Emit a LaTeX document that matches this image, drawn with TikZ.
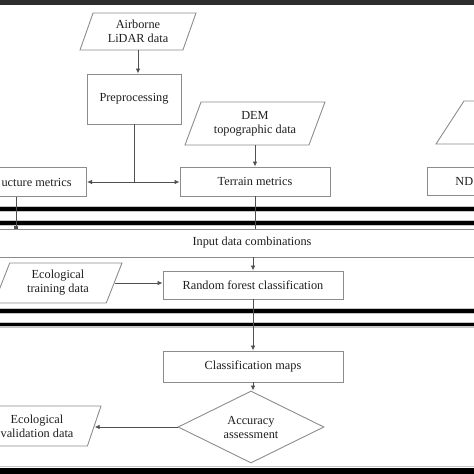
\documentclass[tikz,border=0pt]{standalone}
\usepackage{fontspec}
\setmainfont{Liberation Serif}
\usetikzlibrary{shapes.geometric,arrows.meta,calc}
\definecolor{boxgray}{HTML}{8C8C8C}
\definecolor{linegray}{HTML}{505050}
\definecolor{txt}{HTML}{1E1E1E}
\begin{document}
\begin{tikzpicture}[x=1pt,y=-1pt,
  font=\fontsize{12.3}{14}\selectfont,
  box/.style={draw=boxgray, line width=0.9pt, rectangle, align=center, inner sep=0pt, text=txt},
  para/.style={draw=boxgray, line width=0.9pt, trapezium, trapezium stretches body,
     align=center, inner sep=0pt, text=txt},
  dia/.style={draw=boxgray, line width=0.9pt, diamond, aspect=2, align=center, inner sep=0pt, text=txt},
  conn/.style={draw=linegray, line width=0.8pt},
  arr/.style={conn, -{Latex[length=5pt,width=4.5pt]}},
  band/.style={line width=3.6pt, black}
]
\useasboundingbox (0,0) rectangle (474,474);
\clip (0,0) rectangle (474,474);

% heavy rules
\fill[black!82] (0,0) rectangle (474,4.5);
\foreach \yy in {208.7,222.7,311,324.5}{
  \draw[line width=6pt, gray!45] (0,\yy) -- (474,\yy);
  \draw[band] (0,\yy) -- (474,\yy);
}
\draw[line width=1pt, gray!45] (0,466.5) -- (474,466.5);
\fill[black] (0,468) rectangle (474,474);

% nodes
\node[para, trapezium left angle=60, trapezium right angle=120,
      minimum width=116, minimum height=37] (lidar) at (138,31.5) {Airborne\\LiDAR data};
\node[box, minimum width=94, minimum height=50] (prep) at (134,99) {Preprocessing};
\node[para, trapezium left angle=57, trapezium right angle=123,
      minimum width=140, minimum height=43] (dem) at (255,123.5) {DEM\\topographic data};
\draw[draw=boxgray, line width=0.9pt] (436,144) -- (464,101) -- (576,101) -- (548,144) -- cycle;
\node[box, minimum height=28.5, inner xsep=15, anchor=east] (struct) at (87,182) {ucture metrics};
\node[box, minimum width=150, minimum height=29] (terr) at (255,181.5) {Terrain metrics};
\node[box, minimum height=28.5, anchor=west, text width=90, align=left, inner xsep=28] (ndvi) at (427,181.5) {ND};
\node[box, minimum width=540, minimum height=28] (inp) at (252,243) {Input data combinations};
\node[para, trapezium left angle=58, trapezium right angle=122,
      minimum width=128, minimum height=40] (train) at (58,283) {Ecological\\training data};
\node[box, minimum width=180, minimum height=28] (rf) at (253,285) {Random forest classification};
\node[box, minimum width=180, minimum height=31] (cls) at (253,366.5) {Classification maps};
\node[dia, minimum width=146, minimum height=72] (acc) at (251,427) {Accuracy\\assessment};
\node[para, trapezium left angle=59, trapezium right angle=121,
      minimum width=128, minimum height=40] (valid) at (37,426) {Ecological\\validation data};

% connectors
\draw[arr] (lidar.south) -- (lidar.south |- prep.north);
\coordinate (j) at (prep.south |- 0,182);
\draw[conn] (prep.south) -- (j);
\draw[arr] (j) -- (j -| struct.east);
\draw[arr] (j) -- (j -| terr.west);
\draw[arr] (dem.south) -- (dem.south |- terr.north);
\coordinate (sdrop) at (16,228.5);
\draw[conn, -{Square[length=2.5pt,width=3.5pt]}] (struct.south -| sdrop) -- (sdrop);
\draw[conn] (terr.south) -- (terr.south |- inp.north);
\draw[arr] (inp.south -| rf.north) -- (rf.north);
\draw[arr] (train.east) -- (train.east -| rf.west);
\draw[arr] (rf.south) -- (cls.north);
\draw[arr] (cls.south) -- (cls.south |- acc.north);
\draw[arr] (acc.west) -- (acc.west -| valid.east);
\end{tikzpicture}
\end{document}
